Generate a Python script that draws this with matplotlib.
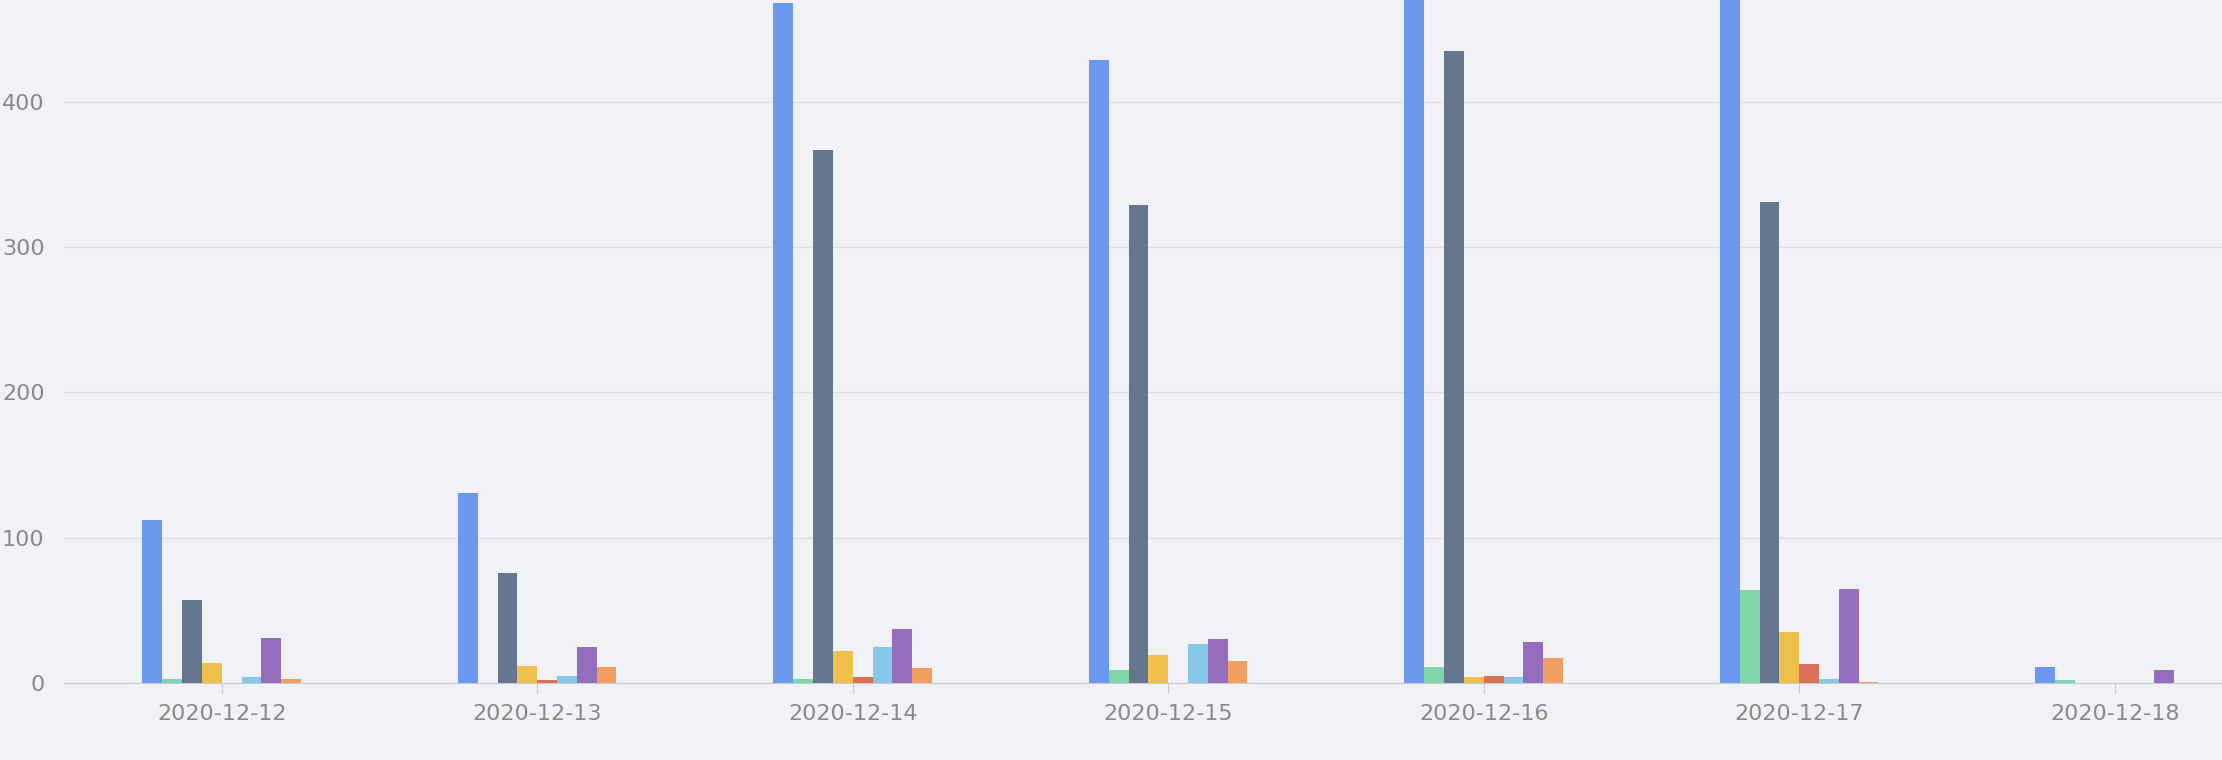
import matplotlib
matplotlib.use("Agg")
import matplotlib.pyplot as plt
import numpy as np

dates = ["2020-12-12", "2020-12-13", "2020-12-14", "2020-12-15",
         "2020-12-16", "2020-12-17", "2020-12-18"]

s_blue = [112, 131, 468, 429, 500, 520, 11]
s_green = [3, 0, 3, 9, 11, 64, 2]
s_slate = [57, 76, 367, 329, 435, 331, 0]
s_yellow = [14, 12, 22, 19, 4, 35, 0]
s_red = [0, 2, 4, 0, 5, 13, 0]
s_lightblue = [4, 5, 25, 27, 4, 3, 0]
s_purple = [31, 25, 37, 30, 28, 65, 9]
s_orange = [3, 11, 10, 15, 17, 1, 0]

series = [s_blue, s_green, s_slate, s_yellow, s_red, s_lightblue, s_purple, s_orange]
colors = ["#6d98f0", "#7fd4a8", "#67768f", "#f0c04e",
          "#d9705a", "#86c9e6", "#946dbd", "#f09e62"]

bg = "#f0f2f6"
fig = plt.figure(figsize=(22.22, 7.6), dpi=100, facecolor=bg)
ax = fig.add_axes([64 / 2222, 77 / 760, 1 - 64 / 2222, 683 / 760], facecolor=bg)

x = np.arange(len(dates))
w = 0.0628
for i, (vals, c) in enumerate(zip(series, colors)):
    ax.bar(x + (i - 3.5) * w, vals, width=w, color=c, zorder=3)

ax.set_xlim(-0.5, 6.34)
ax.set_ylim(0, 470)
ax.set_yticks([0, 100, 200, 300, 400])
ax.set_xticks(x)
ax.set_xticklabels(dates)
ax.grid(axis="y", color="#dcdee3", linewidth=1, zorder=0)
for sp in ("top", "right", "left"):
    ax.spines[sp].set_visible(False)
ax.spines["bottom"].set_color("#c8cbd2")
ax.tick_params(axis="y", length=0, labelsize=16, labelcolor="#8a8a8a", pad=14)
ax.tick_params(axis="x", length=7, color="#c8cbd2", labelsize=16,
               labelcolor="#8a8a8a", pad=8)

fig.savefig("out.png", facecolor=bg)
